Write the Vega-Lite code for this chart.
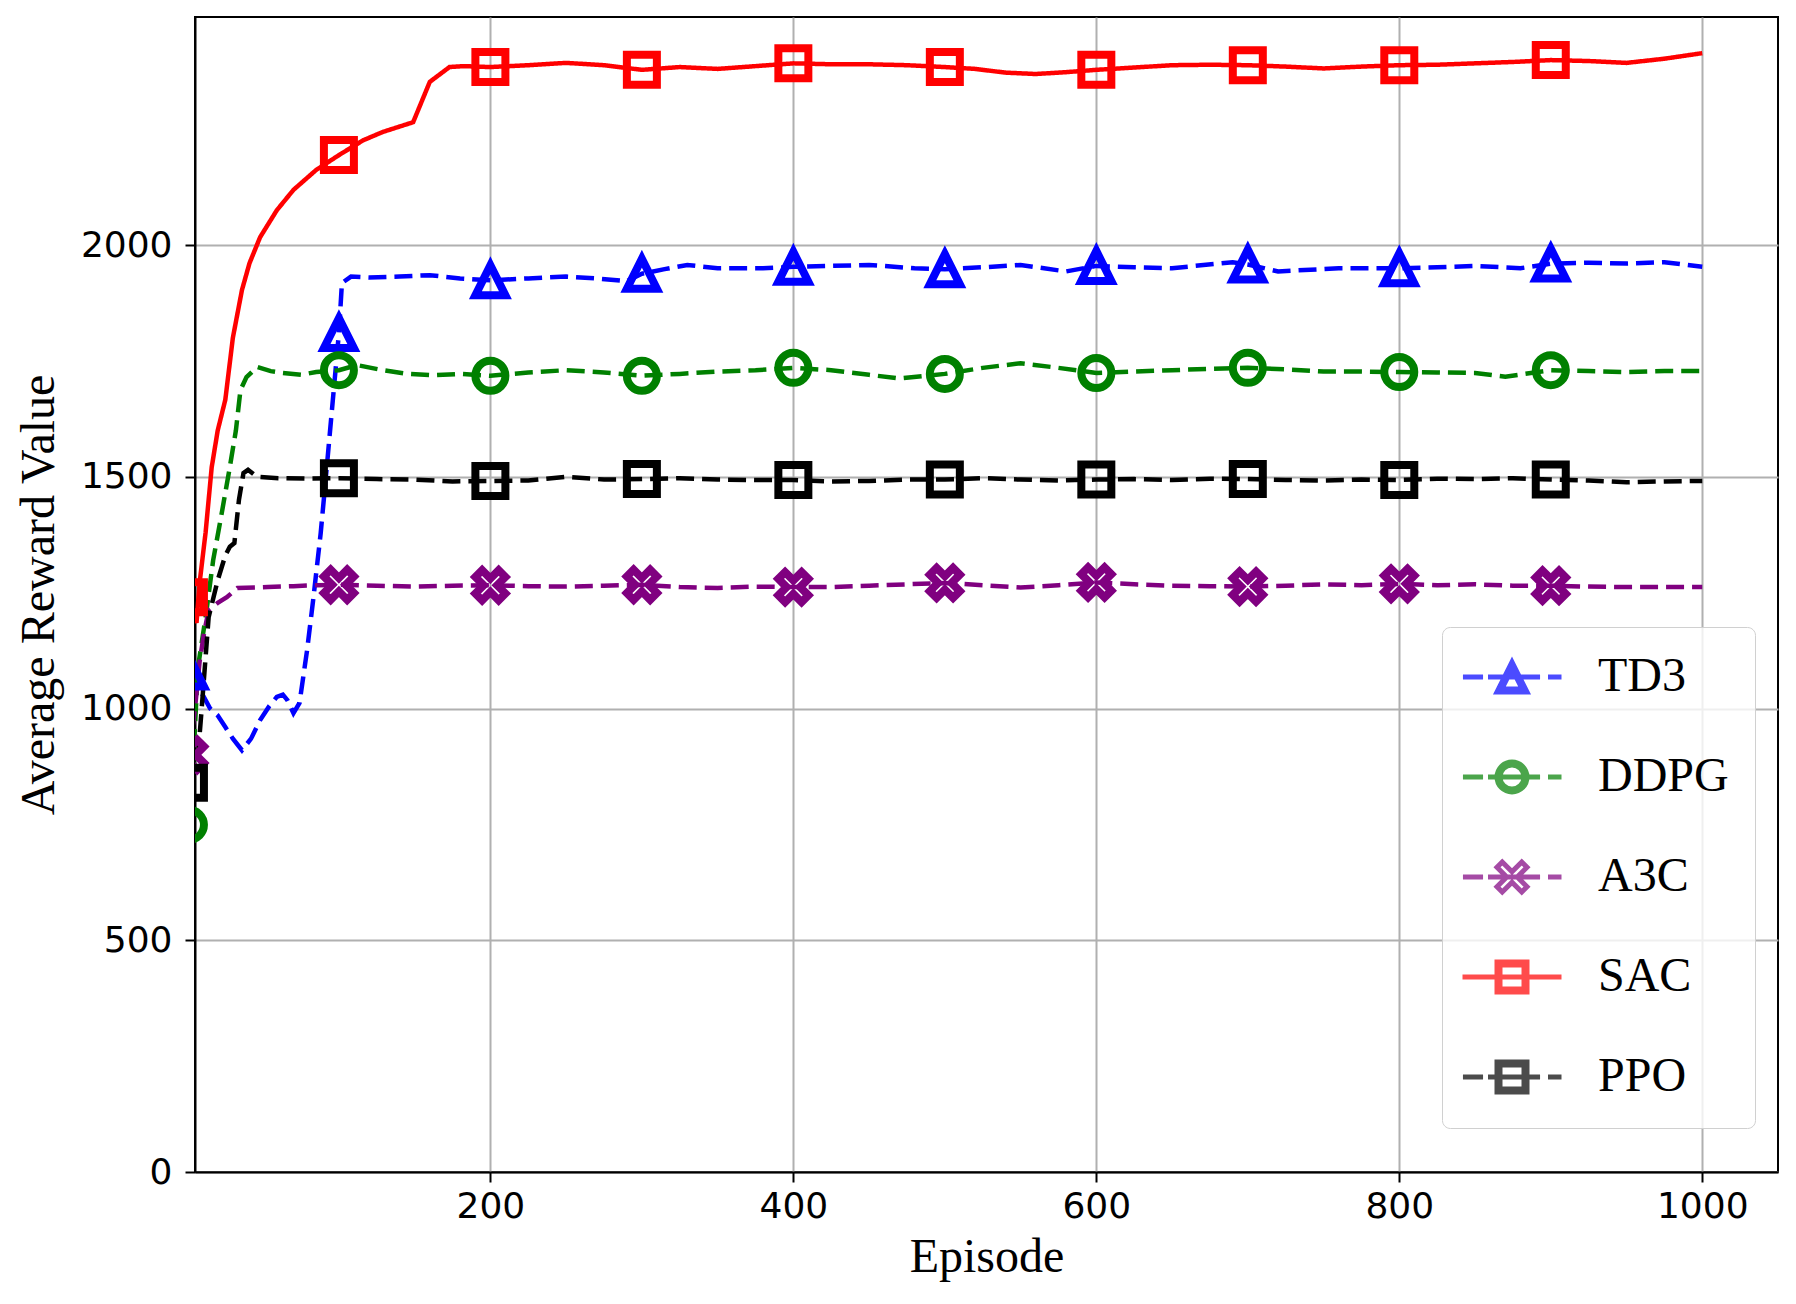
{
  "$schema": "https://vega.github.io/schema/vega-lite/v6.json",
  "width": 1583,
  "height": 1155,
  "autosize": {"type": "none"},
  "padding": {"left": 195, "top": 17, "right": 18, "bottom": 132},
  "background": "white",
  "config": {
    "view": {"stroke": "black", "strokeWidth": 2},
    "axis": {
      "labelFont": "DejaVu Sans", "labelFontSize": 36, "labelColor": "black", "format": "d",
      "titleFont": "Liberation Serif", "titleFontSize": 48, "titleFontWeight": "normal", "titleColor": "black",
      "tickColor": "black", "tickWidth": 2, "tickSize": 10,
      "domainColor": "black", "domainWidth": 2,
      "gridColor": "#b0b0b0", "gridWidth": 2
    },
    "legend": {
      "orient": "none", "legendX": 1247, "legendY": 610,
      "fillColor": "rgba(255,255,255,0.8)", "strokeColor": "#d0d0d0", "cornerRadius": 8, "padding": 26,
      "labelFont": "Liberation Serif", "labelFontSize": 48, "labelColor": "black", "labelOffset": 62, "labelLimit": 400,
      "symbolOffset": 20, "symbolSize": 900, "symbolStrokeWidth": 5, "rowPadding": 50
    }
  },
  "datasets": {
    "rewards": [
      {"algo":"TD3","episode":1,"reward":1080},{"algo":"TD3","episode":5,"reward":1060},{"algo":"TD3","episode":10,"reward":1030},{"algo":"TD3","episode":15,"reward":1000},{"algo":"TD3","episode":20,"reward":985},{"algo":"TD3","episode":25,"reward":960},{"algo":"TD3","episode":30,"reward":935},{"algo":"TD3","episode":36,"reward":910},{"algo":"TD3","episode":42,"reward":935},{"algo":"TD3","episode":48,"reward":975},{"algo":"TD3","episode":54,"reward":1005},{"algo":"TD3","episode":59,"reward":1025},{"algo":"TD3","episode":63,"reward":1030},{"algo":"TD3","episode":66,"reward":1018},{"algo":"TD3","episode":70,"reward":990},{"algo":"TD3","episode":74,"reward":1012},{"algo":"TD3","episode":79,"reward":1126},{"algo":"TD3","episode":83,"reward":1234},{"algo":"TD3","episode":88,"reward":1379},{"algo":"TD3","episode":92,"reward":1521},{"algo":"TD3","episode":96,"reward":1666},{"algo":"TD3","episode":100,"reward":1810},{"algo":"TD3","episode":102,"reward":1918},{"algo":"TD3","episode":108,"reward":1932},{"algo":"TD3","episode":120,"reward":1930},{"algo":"TD3","episode":140,"reward":1932},{"algo":"TD3","episode":160,"reward":1935},{"algo":"TD3","episode":180,"reward":1928},{"algo":"TD3","episode":200,"reward":1924},{"algo":"TD3","episode":225,"reward":1928},{"algo":"TD3","episode":250,"reward":1932},{"algo":"TD3","episode":270,"reward":1928},{"algo":"TD3","episode":290,"reward":1922},{"algo":"TD3","episode":300,"reward":1938},{"algo":"TD3","episode":315,"reward":1948},{"algo":"TD3","episode":330,"reward":1957},{"algo":"TD3","episode":350,"reward":1950},{"algo":"TD3","episode":380,"reward":1950},{"algo":"TD3","episode":400,"reward":1953},{"algo":"TD3","episode":425,"reward":1955},{"algo":"TD3","episode":450,"reward":1957},{"algo":"TD3","episode":480,"reward":1950},{"algo":"TD3","episode":500,"reward":1948},{"algo":"TD3","episode":525,"reward":1952},{"algo":"TD3","episode":550,"reward":1957},{"algo":"TD3","episode":580,"reward":1943},{"algo":"TD3","episode":600,"reward":1955},{"algo":"TD3","episode":625,"reward":1952},{"algo":"TD3","episode":650,"reward":1950},{"algo":"TD3","episode":690,"reward":1963},{"algo":"TD3","episode":700,"reward":1958},{"algo":"TD3","episode":720,"reward":1943},{"algo":"TD3","episode":760,"reward":1950},{"algo":"TD3","episode":800,"reward":1950},{"algo":"TD3","episode":825,"reward":1952},{"algo":"TD3","episode":850,"reward":1955},{"algo":"TD3","episode":880,"reward":1950},{"algo":"TD3","episode":900,"reward":1960},{"algo":"TD3","episode":925,"reward":1962},{"algo":"TD3","episode":950,"reward":1960},{"algo":"TD3","episode":975,"reward":1963},{"algo":"TD3","episode":1000,"reward":1953},
      {"algo":"DDPG","episode":1,"reward":749},{"algo":"DDPG","episode":4,"reward":900},{"algo":"DDPG","episode":7,"reward":1090},{"algo":"DDPG","episode":12,"reward":1197},{"algo":"DDPG","episode":17,"reward":1320},{"algo":"DDPG","episode":23,"reward":1428},{"algo":"DDPG","episode":28,"reward":1521},{"algo":"DDPG","episode":32,"reward":1600},{"algo":"DDPG","episode":35,"reward":1687},{"algo":"DDPG","episode":39,"reward":1715},{"algo":"DDPG","episode":46,"reward":1737},{"algo":"DDPG","episode":55,"reward":1728},{"algo":"DDPG","episode":63,"reward":1724},{"algo":"DDPG","episode":75,"reward":1720},{"algo":"DDPG","episode":85,"reward":1726},{"algo":"DDPG","episode":100,"reward":1730},{"algo":"DDPG","episode":112,"reward":1741},{"algo":"DDPG","episode":129,"reward":1730},{"algo":"DDPG","episode":145,"reward":1722},{"algo":"DDPG","episode":162,"reward":1719},{"algo":"DDPG","episode":180,"reward":1722},{"algo":"DDPG","episode":200,"reward":1718},{"algo":"DDPG","episode":225,"reward":1725},{"algo":"DDPG","episode":250,"reward":1730},{"algo":"DDPG","episode":275,"reward":1725},{"algo":"DDPG","episode":300,"reward":1718},{"algo":"DDPG","episode":325,"reward":1722},{"algo":"DDPG","episode":350,"reward":1727},{"algo":"DDPG","episode":375,"reward":1730},{"algo":"DDPG","episode":400,"reward":1735},{"algo":"DDPG","episode":425,"reward":1730},{"algo":"DDPG","episode":450,"reward":1720},{"algo":"DDPG","episode":470,"reward":1712},{"algo":"DDPG","episode":500,"reward":1722},{"algo":"DDPG","episode":525,"reward":1735},{"algo":"DDPG","episode":550,"reward":1745},{"algo":"DDPG","episode":575,"reward":1735},{"algo":"DDPG","episode":600,"reward":1724},{"algo":"DDPG","episode":625,"reward":1727},{"algo":"DDPG","episode":650,"reward":1730},{"algo":"DDPG","episode":675,"reward":1733},{"algo":"DDPG","episode":700,"reward":1735},{"algo":"DDPG","episode":725,"reward":1732},{"algo":"DDPG","episode":750,"reward":1727},{"algo":"DDPG","episode":775,"reward":1727},{"algo":"DDPG","episode":800,"reward":1726},{"algo":"DDPG","episode":825,"reward":1725},{"algo":"DDPG","episode":850,"reward":1724},{"algo":"DDPG","episode":870,"reward":1716},{"algo":"DDPG","episode":900,"reward":1730},{"algo":"DDPG","episode":925,"reward":1728},{"algo":"DDPG","episode":950,"reward":1726},{"algo":"DDPG","episode":975,"reward":1728},{"algo":"DDPG","episode":1000,"reward":1728},
      {"algo":"A3C","episode":1,"reward":900},{"algo":"A3C","episode":5,"reward":1000},{"algo":"A3C","episode":8,"reward":1100},{"algo":"A3C","episode":11,"reward":1163},{"algo":"A3C","episode":14,"reward":1212},{"algo":"A3C","episode":20,"reward":1228},{"algo":"A3C","episode":26,"reward":1240},{"algo":"A3C","episode":33,"reward":1260},{"algo":"A3C","episode":45,"reward":1261},{"algo":"A3C","episode":53,"reward":1262},{"algo":"A3C","episode":70,"reward":1264},{"algo":"A3C","episode":85,"reward":1266},{"algo":"A3C","episode":100,"reward":1267},{"algo":"A3C","episode":125,"reward":1265},{"algo":"A3C","episode":150,"reward":1263},{"algo":"A3C","episode":175,"reward":1265},{"algo":"A3C","episode":200,"reward":1266},{"algo":"A3C","episode":225,"reward":1264},{"algo":"A3C","episode":250,"reward":1263},{"algo":"A3C","episode":275,"reward":1265},{"algo":"A3C","episode":300,"reward":1267},{"algo":"A3C","episode":325,"reward":1262},{"algo":"A3C","episode":350,"reward":1260},{"algo":"A3C","episode":375,"reward":1263},{"algo":"A3C","episode":400,"reward":1262},{"algo":"A3C","episode":425,"reward":1262},{"algo":"A3C","episode":450,"reward":1265},{"algo":"A3C","episode":475,"reward":1268},{"algo":"A3C","episode":500,"reward":1271},{"algo":"A3C","episode":525,"reward":1266},{"algo":"A3C","episode":550,"reward":1261},{"algo":"A3C","episode":575,"reward":1266},{"algo":"A3C","episode":600,"reward":1272},{"algo":"A3C","episode":625,"reward":1268},{"algo":"A3C","episode":650,"reward":1265},{"algo":"A3C","episode":675,"reward":1264},{"algo":"A3C","episode":700,"reward":1263},{"algo":"A3C","episode":725,"reward":1265},{"algo":"A3C","episode":750,"reward":1268},{"algo":"A3C","episode":775,"reward":1266},{"algo":"A3C","episode":800,"reward":1269},{"algo":"A3C","episode":825,"reward":1266},{"algo":"A3C","episode":850,"reward":1268},{"algo":"A3C","episode":875,"reward":1265},{"algo":"A3C","episode":900,"reward":1265},{"algo":"A3C","episode":925,"reward":1263},{"algo":"A3C","episode":950,"reward":1262},{"algo":"A3C","episode":975,"reward":1262},{"algo":"A3C","episode":1000,"reward":1262},
      {"algo":"SAC","episode":1,"reward":1240},{"algo":"SAC","episode":4,"reward":1200},{"algo":"SAC","episode":6,"reward":1185},{"algo":"SAC","episode":8,"reward":1270},{"algo":"SAC","episode":12,"reward":1380},{"algo":"SAC","episode":16,"reward":1520},{"algo":"SAC","episode":20,"reward":1600},{"algo":"SAC","episode":25,"reward":1666},{"algo":"SAC","episode":30,"reward":1800},{"algo":"SAC","episode":36,"reward":1903},{"algo":"SAC","episode":41,"reward":1961},{"algo":"SAC","episode":48,"reward":2017},{"algo":"SAC","episode":59,"reward":2075},{"algo":"SAC","episode":70,"reward":2119},{"algo":"SAC","episode":85,"reward":2162},{"algo":"SAC","episode":100,"reward":2194},{"algo":"SAC","episode":116,"reward":2226},{"algo":"SAC","episode":129,"reward":2244},{"algo":"SAC","episode":149,"reward":2265},{"algo":"SAC","episode":160,"reward":2352},{"algo":"SAC","episode":173,"reward":2384},{"algo":"SAC","episode":182,"reward":2386},{"algo":"SAC","episode":200,"reward":2384},{"algo":"SAC","episode":225,"reward":2388},{"algo":"SAC","episode":250,"reward":2393},{"algo":"SAC","episode":275,"reward":2388},{"algo":"SAC","episode":300,"reward":2378},{"algo":"SAC","episode":325,"reward":2384},{"algo":"SAC","episode":350,"reward":2380},{"algo":"SAC","episode":375,"reward":2386},{"algo":"SAC","episode":400,"reward":2392},{"algo":"SAC","episode":425,"reward":2390},{"algo":"SAC","episode":450,"reward":2390},{"algo":"SAC","episode":475,"reward":2388},{"algo":"SAC","episode":500,"reward":2384},{"algo":"SAC","episode":520,"reward":2380},{"algo":"SAC","episode":540,"reward":2372},{"algo":"SAC","episode":560,"reward":2369},{"algo":"SAC","episode":580,"reward":2373},{"algo":"SAC","episode":600,"reward":2378},{"algo":"SAC","episode":625,"reward":2383},{"algo":"SAC","episode":650,"reward":2388},{"algo":"SAC","episode":675,"reward":2389},{"algo":"SAC","episode":700,"reward":2388},{"algo":"SAC","episode":725,"reward":2385},{"algo":"SAC","episode":750,"reward":2381},{"algo":"SAC","episode":775,"reward":2385},{"algo":"SAC","episode":800,"reward":2388},{"algo":"SAC","episode":825,"reward":2389},{"algo":"SAC","episode":850,"reward":2392},{"algo":"SAC","episode":875,"reward":2395},{"algo":"SAC","episode":900,"reward":2399},{"algo":"SAC","episode":925,"reward":2397},{"algo":"SAC","episode":950,"reward":2393},{"algo":"SAC","episode":975,"reward":2402},{"algo":"SAC","episode":1000,"reward":2414},
      {"algo":"PPO","episode":1,"reward":840},{"algo":"PPO","episode":7,"reward":900},{"algo":"PPO","episode":9,"reward":982},{"algo":"PPO","episode":11,"reward":1068},{"algo":"PPO","episode":14,"reward":1197},{"algo":"PPO","episode":20,"reward":1277},{"algo":"PPO","episode":25,"reward":1330},{"algo":"PPO","episode":28,"reward":1349},{"algo":"PPO","episode":31,"reward":1357},{"algo":"PPO","episode":34,"reward":1450},{"algo":"PPO","episode":37,"reward":1508},{"algo":"PPO","episode":40,"reward":1515},{"algo":"PPO","episode":46,"reward":1500},{"algo":"PPO","episode":60,"reward":1497},{"algo":"PPO","episode":80,"reward":1496},{"algo":"PPO","episode":100,"reward":1497},{"algo":"PPO","episode":125,"reward":1495},{"algo":"PPO","episode":150,"reward":1494},{"algo":"PPO","episode":175,"reward":1490},{"algo":"PPO","episode":200,"reward":1491},{"algo":"PPO","episode":225,"reward":1492},{"algo":"PPO","episode":250,"reward":1500},{"algo":"PPO","episode":275,"reward":1494},{"algo":"PPO","episode":300,"reward":1495},{"algo":"PPO","episode":325,"reward":1497},{"algo":"PPO","episode":350,"reward":1494},{"algo":"PPO","episode":375,"reward":1493},{"algo":"PPO","episode":400,"reward":1493},{"algo":"PPO","episode":425,"reward":1490},{"algo":"PPO","episode":450,"reward":1491},{"algo":"PPO","episode":475,"reward":1494},{"algo":"PPO","episode":500,"reward":1494},{"algo":"PPO","episode":525,"reward":1497},{"algo":"PPO","episode":550,"reward":1494},{"algo":"PPO","episode":575,"reward":1492},{"algo":"PPO","episode":600,"reward":1494},{"algo":"PPO","episode":625,"reward":1495},{"algo":"PPO","episode":650,"reward":1493},{"algo":"PPO","episode":675,"reward":1496},{"algo":"PPO","episode":700,"reward":1495},{"algo":"PPO","episode":725,"reward":1493},{"algo":"PPO","episode":750,"reward":1492},{"algo":"PPO","episode":775,"reward":1494},{"algo":"PPO","episode":800,"reward":1493},{"algo":"PPO","episode":825,"reward":1496},{"algo":"PPO","episode":850,"reward":1495},{"algo":"PPO","episode":875,"reward":1497},{"algo":"PPO","episode":900,"reward":1494},{"algo":"PPO","episode":925,"reward":1492},{"algo":"PPO","episode":950,"reward":1488},{"algo":"PPO","episode":975,"reward":1490},{"algo":"PPO","episode":1000,"reward":1491}
    ]
  },
  "data": {"name": "rewards"},
  "encoding": {
    "x": {"field": "episode", "type": "quantitative", "title": "Episode",
      "scale": {"domain": [5, 1050], "nice": false, "zero": false},
      "axis": {"values": [200, 400, 600, 800, 1000], "labelPadding": 7, "titlePadding": 9}},
    "y": {"field": "reward", "type": "quantitative", "title": "Average Reward Value",
      "scale": {"domain": [0, 2492], "nice": false},
      "axis": {"values": [0, 500, 1000, 1500, 2000], "labelPadding": 13, "titlePadding": 17}}
  },
  "resolve": {"scale": {"shape": "independent", "color": "independent"}},
  "layer": [
    {
      "mark": {"type": "line", "strokeWidth": 4.5, "clip": true},
      "encoding": {
        "detail": {"field": "algo", "type": "nominal"},
        "color": {"condition": [
          {"test": "datum.algo === 'TD3'", "value": "#0000ff"},
          {"test": "datum.algo === 'DDPG'", "value": "#008000"},
          {"test": "datum.algo === 'A3C'", "value": "#800080"},
          {"test": "datum.algo === 'SAC'", "value": "#ff0000"}
        ], "value": "#000000"},
        "strokeDash": {"condition": {"test": "datum.algo === 'SAC'", "value": [1, 0]}, "value": [18, 8]},
        "order": {"field": "episode", "type": "quantitative"}
      }
    },
    {
      "transform": [{"filter": "datum.episode == 1 || (datum.episode % 100 == 0 && datum.episode < 1000)"}],
      "mark": {"type": "point", "filled": false, "strokeWidth": 8, "size": 900, "opacity": 1, "clip": true},
      "encoding": {
        "color": {"condition": [
          {"test": "datum.algo === 'TD3'", "value": "#0000ff"},
          {"test": "datum.algo === 'DDPG'", "value": "#008000"},
          {"test": "datum.algo === 'A3C'", "value": "#800080"},
          {"test": "datum.algo === 'SAC'", "value": "#ff0000"}
        ], "value": "#000000"},
        "shape": {"field": "algo", "type": "nominal",
          "scale": {"domain": ["TD3", "DDPG", "A3C", "SAC", "PPO"], "range": ["M0,-1L1,1L-1,1Z", "M1,0A1,1 0 1,1 -1,0A1,1 0 1,1 1,0Z", "M0,-0.45L0.55,-1L1,-0.55L0.45,0L1,0.55L0.55,1L0,0.45L-0.55,1L-1,0.55L-0.45,0L-1,-0.55L-0.55,-1Z", "M-1,-1H1V1H-1Z", "M-1,-1H1V1H-1Z"]},
          "legend": null}
      }
    },
    {
      "transform": [{"filter": "false"}],
      "mark": {"type": "point", "filled": false},
      "encoding": {
        "color": {"field": "algo", "type": "nominal",
          "scale": {"domain": ["TD3", "DDPG", "A3C", "SAC", "PPO"], "range": ["#0000ff", "#008000", "#800080", "#ff0000", "#000000"]},
          "legend": {"title": null}},
        "shape": {"field": "algo", "type": "nominal",
          "scale": {"domain": ["TD3", "DDPG", "A3C", "SAC", "PPO"], "range": [
            "M-3.27,0H-1.93M-1.6,0H1.87M2.4,0H3.3M0,-1L1,1L-1,1ZM0,-0.55L0.68,0.8L-0.68,0.8Z",
            "M-3.27,0H-1.93M-1.6,0H1.87M2.4,0H3.3M1,0A1,1 0 1,1 -1,0A1,1 0 1,1 1,0ZM0.8,0A0.8,0.8 0 1,1 -0.8,0A0.8,0.8 0 1,1 0.8,0Z",
            "M-3.27,0H-1.93M-1.6,0H1.87M2.4,0H3.3M0,-0.35L0.65,-1L1,-0.65L0.35,0L1,0.65L0.65,1L0,0.35L-0.65,1L-1,0.65L-0.35,0L-1,-0.65L-0.65,-1Z",
            "M-3.3,0H3.3M-1,-1H1V1H-1ZM-0.8,-0.8H0.8V0.8H-0.8Z",
            "M-3.27,0H-1.93M-1.6,0H1.87M2.4,0H3.3M-1,-1H1V1H-1ZM-0.8,-0.8H0.8V0.8H-0.8Z"]},
          "legend": {"title": null}}
      }
    }
  ]
}
